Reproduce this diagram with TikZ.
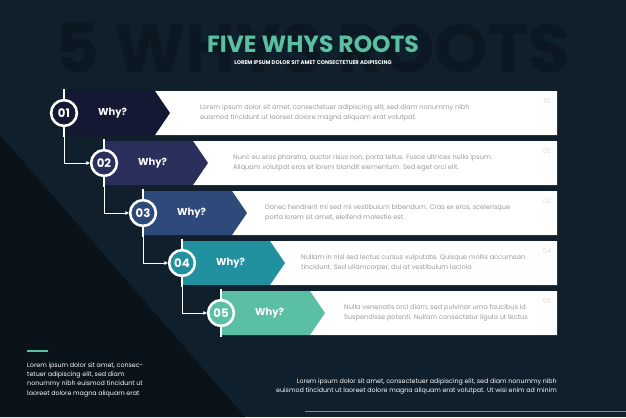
\documentclass[tikz,border=0pt]{standalone}
\usepackage{fontspec}
\setmainfont{Poppins}
\usetikzlibrary{arrows.meta}

\definecolor{bg}{HTML}{0F1F2B}
\definecolor{darkbg}{HTML}{0A121A}
\definecolor{mark}{HTML}{0B1821}
\definecolor{teal}{HTML}{5BBFA2}
\definecolor{cA}{HTML}{141833}
\definecolor{cB}{HTML}{2B2F5C}
\definecolor{cC}{HTML}{2E4A7A}
\definecolor{cD}{HTML}{22919F}
\definecolor{cE}{HTML}{5BBFA6}
\definecolor{body}{HTML}{9A9A9A}

\tikzset{
  num/.style={circle,draw=white,line width=2.2pt,minimum size=22pt,inner sep=0pt,
    font=\bfseries\fontsize{10}{10}\selectfont,text=white},
  why/.style={font=\bfseries\fontsize{8.5}{8.5}\selectfont,text=white,anchor=west},
  txt/.style={font=\fontsize{5.6}{8.5}\selectfont,text=body,anchor=west,align=left},
  idx/.style={font=\fontsize{5.5}{6}\selectfont,text=black!15},
  link/.style={white,line width=0.7pt,-{Triangle[length=3pt,width=3pt]}},
}

\begin{document}
\begin{tikzpicture}[x=0.03cm,y=-0.03cm]
\useasboundingbox (0,0) rectangle (626,417);
\fill[bg] (0,0) rectangle (626,417);
\fill[darkbg] (0,135) -- (245,417) -- (0,417) -- cycle;

\node[font=\bfseries\fontsize{58}{58}\selectfont,text=mark] (mark) at (313,48) {5 WHYS ROOTS};
\node[font=\bfseries\fontsize{20}{20}\selectfont,text=teal] (title) at (313,44) {FIVE WHYS ROOTS};
\node[font=\bfseries\fontsize{4.6}{5}\selectfont,text=white] (sub) at (313,63)
  {LOREM IPSUM DOLOR SIT AMET CONSECTETUER ADIPISCING};

% rows
\foreach \i/\cx/\tip/\tx/\col/\txt in {
  1/64/170/196/cA/{Lorem ipsum dolor sit amet, consectetuer adipiscing elit, sed diam nonummy nibh\\euismod tincidunt ut laoreet dolore magna aliquam erat volutpat.},
  2/104/208/229/cB/{Nunc eu eros pharetra, auctor risus non, porta tellus. Fusce ultrices nulla ipsum.\\Aliquam volutpat eros et lorem blandit elementum. Sed eget orci elit.},
  3/143/247/261/cC/{Donec hendrerit mi sed mi vestibulum bibendum. Cras ex eros, scelerisque\\porta lorem sit amet, eleifend molestie est.},
  4/182/285/297/cD/{Nullam in nisl sed lectus cursus vulputate. Quisque mollis accumsan\\tincidunt. Sed ullamcorper, dui at vestibulum lacinia},
  5/221/325/340/cE/{Nulla venenatis orci diam, sed pulvinar urna faucibus id.\\Suspendisse potenti. Nullam consectetur ligula ut lectus}} {
  \pgfmathsetmacro{\ytop}{91+50*(\i-1)}
  \pgfmathsetmacro{\cy}{\ytop+22}
  \pgfmathsetmacro{\ybot}{\ytop+44}
  \fill[white] (\tip-15,\ytop) rectangle (557,\ybot);
  \draw[black!80,line width=0.6pt] (557,\ytop) -- (557,\ybot) -- (\tip-15,\ybot);
  \fill[\col] (\cx,\ytop) -- (\tip-15,\ytop) -- (\tip,\cy) -- (\tip-15,\ybot) -- (\cx,\ybot) -- cycle;
  \draw[white,line width=2pt] (\cx,\ytop-2) -- (\cx,\ybot+2);
  \node[num,fill=\col] (c\i) at (\cx,\cy) {0\i};
  \node[why] (w\i) at (\cx+30,\cy) {Why?};
  \node[txt] (t\i) at (\tx,\cy) {\txt};
  \node[idx] (n\i) at (547,\ytop+10) {0\i};
  \coordinate (s\i) at (\cx,\ybot);
}

% connectors
\foreach \a/\b in {1/2,2/3,3/4,4/5}
  \draw[link] (s\a) |- (c\b);

% footer
\draw[teal,line width=1.5pt] (27,351) -- (48,351);
\node[font=\fontsize{5.4}{8}\selectfont,text=white,anchor=north west,align=left,inner sep=0pt] (left) at (27,362)
  {Lorem ipsum dolor sit amet, consec-\\tetuer adipiscing elit, sed diam\\nonummy nibh euismod tincidunt ut\\laoreet dolore magna aliquam erat};
\node[font=\fontsize{5.4}{8}\selectfont,text=white,anchor=north east,align=right,inner sep=0pt] (right) at (557,378)
  {Lorem ipsum dolor sit amet, consectetuer adipiscing elit, sed diam nonummy nibh\\euismod tincidunt ut laoreet dolore magna aliquam erat volutpat. Ut wisi enim ad minim};
\draw[black!45,line width=0.8pt] (305,411) -- (626,411);
\end{tikzpicture}
\end{document}
